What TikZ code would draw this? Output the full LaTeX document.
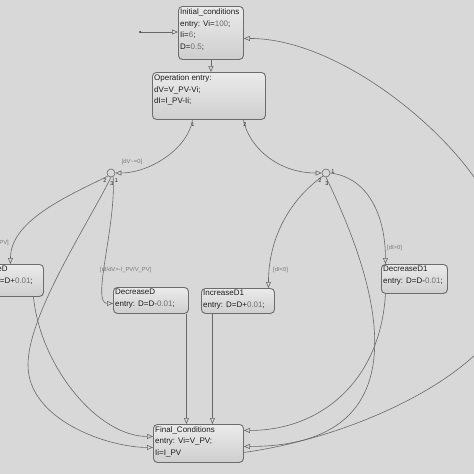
\documentclass[tikz,border=0pt]{standalone}
\usepackage{fontspec}
\setmainfont{Liberation Sans}
\usetikzlibrary{arrows.meta,calc}
\definecolor{bgc}{HTML}{D8D8D8}
\definecolor{linec}{HTML}{686868}
\definecolor{bordc}{HTML}{6C6C6C}
\definecolor{textc}{HTML}{1C1C1C}
\definecolor{numc}{HTML}{6E6E6E}
\definecolor{guardc}{HTML}{777777}
\begin{document}
\begin{tikzpicture}[x=1pt,y=-1pt,
  state/.style={draw=bordc, line width=0.9pt, rounded corners=4pt,
    top color=black!8, bottom color=black!19, anchor=north west, inner sep=0pt},
  stxt/.style={anchor=north west, inner sep=0pt, align=left, text=textc,
    font=\fontsize{8}{11.5}\selectfont},
  tr/.style={draw=linec, line width=0.6pt, -{Triangle[open,length=6pt,width=5pt]}},
  plainline/.style={draw=linec, line width=0.6pt},
  guard/.style={font=\fontsize{5.8}{7}\selectfont, text=guardc, inner sep=0pt},
  port/.style={font=\fontsize{5.5}{6}\selectfont, text=textc, inner sep=0pt},
  junc/.style={circle, draw=linec, line width=0.6pt, minimum size=8pt, inner sep=0pt}
]
\clip (0,0) rectangle (474,474);
\fill[bgc] (0,0) rectangle (474,474);

% states
\node[state, minimum width=65pt, minimum height=53pt] (init) at (178,6) {};
\node[stxt] (initt) at ([shift={(2,3)}]init.north west)
  {Initial\_conditions\\entry: Vi=\textcolor{numc}{100};\\Ii=\textcolor{numc}{6};\\D=\textcolor{numc}{0.5};};
\node[state, minimum width=113pt, minimum height=47pt] (op) at (152,72) {};
\node[stxt] (opt) at ([shift={(2,3)}]op.north west)
  {Operation entry:\\dV=V\_PV-Vi;\\dI=I\_PV-Ii;};
\node[state, minimum width=74pt, minimum height=32pt] (incd) at (-31,264) {};
\node[stxt] (incdt) at ([shift={(2,2)}]incd.north west)
  {IncreaseD\\entry: D=D+\textcolor{numc}{0.01};};
\node[state, minimum width=75pt, minimum height=26pt] (decd) at (113,287) {};
\node[stxt] (decdt) at ([shift={(2,2)}]decd.north west)
  {DecreaseD\\entry: D=D-\textcolor{numc}{0.01};};
\node[state, minimum width=73pt, minimum height=25pt] (incd1) at (201,288) {};
\node[stxt] (incd1t) at ([shift={(2,2)}]incd1.north west)
  {IncreaseD1\\entry: D=D+\textcolor{numc}{0.01};};
\node[state, minimum width=66pt, minimum height=29pt] (decd1) at (381,264) {};
\node[stxt] (decd1t) at ([shift={(2,2)}]decd1.north west)
  {DecreaseD1\\entry: D=D-\textcolor{numc}{0.01};};
\node[state, minimum width=90pt, minimum height=38pt] (final) at (153,424) {};
\node[stxt] (finalt) at ([shift={(2,2)}]final.north west)
  {Final\_Conditions\\entry: Vi=V\_PV;\\Ii=I\_PV};

% junctions
\node[junc] (j1) at (111,173) {};
\node[junc] (j2) at (326,173) {};

% default transition
\node[circle, fill=textc, inner sep=0pt, minimum size=2pt] (dflt) at (140,32) {};
\draw[tr] (dflt) -- (dflt -| init.west);

% init -> op
\draw[tr] (init.south) -- (init.south |- op.north);

% op -> junctions
\coordinate (op1) at ([xshift=-16.5pt]op.south);
\coordinate (op2) at ([xshift=34.5pt]op.south);
\draw[tr] (op1) .. controls +(-4,28) and +(35,0) .. (j1.east);
\draw[tr] (op2) .. controls +(5,26) and +(-45,0) .. (j2.west);
\node[port] (p1) at (193,125) {1};
\node[port] (p2) at (245,125) {2};
\node[guard] (g0) at (132,162) {[dV\textasciitilde=0]};

% left junction
\coordinate (incdN) at ([xshift=4pt]incd.north);
\coordinate (decdW) at ([yshift=-3pt]decd.west);
\coordinate (finW1) at ([yshift=7pt]final.west);
\coordinate (finW2) at ([yshift=-4pt]final.west);
\coordinate (incdS) at ([xshift=27pt]incd.south);
\coordinate (lbend) at (28,365);
\draw[tr] (j1.south west) .. controls +(-38,19) and +(0,-44) .. (incdN);
\draw[tr] (j1.-60) .. controls +(3,50) and +(-22,0) .. (decdW);
\draw[tr] (j1.south) .. controls +(-25,50) and +(0,-50) .. (lbend)
   .. controls +(0,55) and +(-45,0) .. (finW2);
\draw[tr] (incdS) .. controls +(7,70) and +(-55,0) .. (finW1);
\node[port] (l2) at (105,181) {2};
\node[port] (l3) at (112,184) {3};
\node[port] (l1) at (116.5,180.5) {1};
\node[guard, anchor=east] (g1) at (9,243) {[dI/dV<-I\_PV/V\_PV]};
\node[guard, anchor=west] (g2) at (100,270) {[dI/dV>-I\_PV/V\_PV]};

% vertical drops into final
\coordinate (dd) at ([xshift=35.5pt]decd.south);
\coordinate (ii) at ([xshift=-25.5pt]incd1.south);
\draw[tr] (dd) -- (dd |- final.north);
\draw[tr] (ii) -- (ii |- final.north);

% right junction
\coordinate (dd1N) at ([xshift=-29pt]decd1.north);
\coordinate (id1N) at ([xshift=30.5pt]incd1.north);
\coordinate (dd1S) at ([xshift=-29pt]decd1.south);
\coordinate (finE1) at ([yshift=13pt]final.east);
\coordinate (finE2) at ([yshift=-3pt]final.east);
\coordinate (finE3) at ([yshift=-9pt]final.east);
\coordinate (initE) at ([yshift=-5.5pt]init.east);
\draw[tr] (j2.east) .. controls +(40,5) and +(0,-45) .. (dd1N);
\draw[tr] (j2.south west) .. controls +(-35,25) and +(0,-48) .. (id1N);
\draw[tr] (j2.south) .. controls +(74,152) and +(157,0) .. (finE2);
\draw[tr] (dd1S) .. controls +(-5,87) and +(77,0) .. (finE1);
\node[port] (r1) at (333,172) {1};
\node[port] (r2) at (320,180.5) {2};
\node[port] (r3) at (327,184) {3};
\node[guard, anchor=west] (g3) at (387,248) {[dI>0]};
\node[guard, anchor=west] (g4) at (273,270) {[dI<0]};

% loop back to initial conditions
\coordinate (rb1) at (480,350);
\coordinate (rb2) at (474,177);
\draw[tr] (finE3) .. controls +(87,-12) and +(-50,50) .. (rb1)
   .. controls +(50,-50) and +(31,43) .. (rb2)
   .. controls +(-44,-62) and +(87,0) .. (initE);
\end{tikzpicture}
\end{document}
